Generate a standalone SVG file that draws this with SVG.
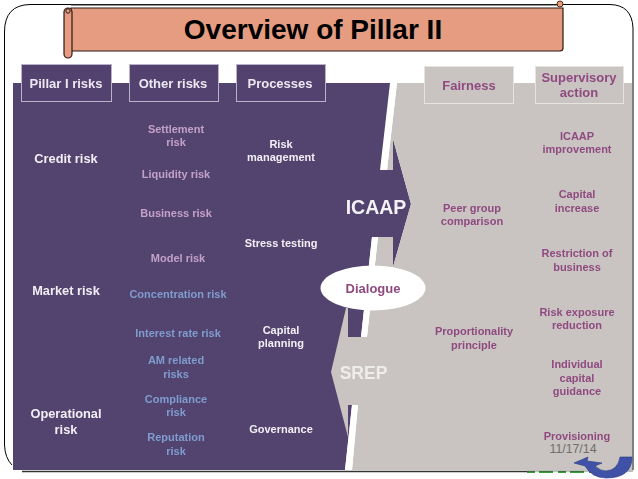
<svg xmlns="http://www.w3.org/2000/svg" width="638" height="479" viewBox="0 0 638 479">
<style>
text{text-anchor:middle;font-family:"Liberation Sans",Arial,sans-serif;font-weight:700}
.h{font-size:13px;fill:#ece8f0}
.hr{font-size:13px;fill:#8f4a80}
.w{font-size:12.800px;fill:#f2eff4}
.p{font-size:11px;fill:#f2eff4}
.pk{font-size:11px;fill:#c3a0c8}
.b{font-size:11px;fill:#7f9ccf}
.r{font-size:11px;fill:#8f4a80}
.box{fill:#53436f;stroke:#b9b3c8;stroke-width:1}
.boxr{fill:#c9c4c1;stroke:#e6e3e1;stroke-width:1}
.scroll{fill:#e69c80;stroke:#2a1a14;stroke-width:1.2}
</style>
<defs><filter id="soft" x="-5%" y="-5%" width="110%" height="110%"><feGaussianBlur stdDeviation="0.3"/></filter></defs>
<rect width="638" height="479" fill="#fff"/>
<path d="M4.500 445V32Q4.500 5 30 4.500H610Q632 5 633 28V470" fill="none" stroke="#000" stroke-width="1"/>
<path d="M4.500 445Q5 458 12 465" fill="none" stroke="#000" stroke-width="1"/>
<path d="M22 471.500H527" stroke="#333" stroke-width="1.300"/>
<path d="M527 472H612" stroke="#3c9a3c" stroke-width="2" stroke-dasharray="8 4 14 5"/>
<path d="M527 471H633" stroke="#222" stroke-width="0.600"/>
<g id="panel">
<polygon points="13,83 392,83 382,170 393,170 393,139 411,204 393,267 393,237 372,237 361,337 348,337 348,405 352,405 345,470 13,470" fill="#53436f"/>
<polygon points="397,83 632,83 632,470 352,470 358,405 348,405 348,437 331,372 346,308 348,308 348,337 367,337 378,237 393,237 393,267 411,204 393,139 393,170 387,170" fill="#c9c4c1"/>
<polygon points="390,83 397,83 387,170 380,170" fill="#fff"/>
<polygon points="372,237 378,237 367,337 361,337" fill="#fff"/>
<polygon points="352,405 358,405 352,470 345,470" fill="#fff"/>
</g>
<g id="title-scroll">
<path class="scroll" d="M71 8H563V48Q563 51 560 51H71Z"/>
<rect class="scroll" x="64" y="8" width="8" height="50" rx="4"/>
<circle cx="68" cy="11" r="2.200" fill="none" stroke="#2a1a14" stroke-width="1"/>
<circle cx="560" cy="4" r="3" fill="#e69c80" stroke="#5a2a1a" stroke-width="1"/>
<path d="M71 5H558" stroke="#333" stroke-width="1"/>
<text x="313" y="39" style="font-size:28px;fill:#000">Overview of Pillar II</text>
</g>
<g filter="url(#soft)">
<g id="head-pillar1"><rect class="box" x="21.500" y="64.500" width="90" height="37"/><text class="h" x="66" y="88">Pillar I risks</text></g>
<g id="head-other"><rect class="box" x="129.500" y="64.500" width="89" height="37"/><text class="h" x="173" y="88">Other risks</text></g>
<g id="head-processes"><rect class="box" x="236.500" y="64.500" width="89" height="37"/><text class="h" x="280" y="88">Processes</text></g>
<g id="head-fairness"><rect class="boxr" x="424.500" y="66.500" width="89" height="37"/><text class="hr" x="469" y="90">Fairness</text></g>
<g id="head-supervisory"><rect class="boxr" x="535.500" y="66.500" width="88" height="37"/><text class="hr" x="579" y="82">Supervisory</text><text class="hr" x="579" y="97">action</text></g>
<g id="pillar1-risks">
<text class="w" x="66" y="163">Credit risk</text>
<text class="w" x="66" y="295">Market risk</text>
<text class="w" x="66" y="418">Operational</text>
<text class="w" x="66" y="434">risk</text>
</g>
<g id="other-risks">
<text class="pk" x="176" y="133">Settlement</text><text class="pk" x="176" y="146">risk</text>
<text class="pk" x="176" y="178">Liquidity risk</text>
<text class="pk" x="176" y="217">Business risk</text>
<text class="pk" x="178" y="262">Model risk</text>
<text class="b" x="178" y="298">Concentration risk</text>
<text class="b" x="178" y="337">Interest rate risk</text>
<text class="b" x="176" y="364">AM related</text><text class="b" x="176" y="378">risks</text>
<text class="b" x="176" y="403">Compliance</text><text class="b" x="176" y="416">risk</text>
<text class="b" x="176" y="441">Reputation</text><text class="b" x="176" y="455">risk</text>
</g>
<g id="processes">
<text class="p" x="281" y="148">Risk</text><text class="p" x="281" y="161">management</text>
<text class="p" x="281" y="247">Stress testing</text>
<text class="p" x="281" y="334">Capital</text><text class="p" x="281" y="347">planning</text>
<text class="p" x="281" y="433">Governance</text>
</g>
<g id="icaap"><text x="376" y="214" style="font-size:19.500px;fill:#f4f2f6">ICAAP</text></g>
<g id="srep"><text x="363.500" y="379" style="font-size:17.500px;fill:#efecec">SREP</text></g>
<g id="dialogue"><ellipse cx="373" cy="288" rx="52.500" ry="22.500" fill="#fff"/><text x="373" y="293" style="font-size:13px;fill:#8f4a80">Dialogue</text></g>
<g id="fairness-items">
<text class="r" x="472" y="212">Peer group</text><text class="r" x="472" y="225">comparison</text>
<text class="r" x="474" y="335">Proportionality</text><text class="r" x="474" y="349">principle</text>
</g>
<g id="supervisory-items">
<text class="r" x="577" y="140">ICAAP</text><text class="r" x="577" y="153">improvement</text>
<text class="r" x="577" y="198">Capital</text><text class="r" x="577" y="212">increase</text>
<text class="r" x="577" y="257">Restriction of</text><text class="r" x="577" y="271">business</text>
<text class="r" x="577" y="316">Risk exposure</text><text class="r" x="577" y="329">reduction</text>
<text class="r" x="577" y="368">Individual</text><text class="r" x="577" y="382">capital</text><text class="r" x="577" y="395">guidance</text>
<text class="r" x="577" y="440">Provisioning</text>
</g>
</g>
<text id="date" x="573" y="453" style="font-weight:400;font-size:12.300px;fill:#6e6e6e">11/17/14</text>
<g id="back-arrow">
<path d="M574 463L588 457L587 461L602 463L595 466Q600 471 606 471Q618 470 620 457H632Q632 478 606 478Q592 478 585 466Z" fill="#3f52a8" stroke="#2a3780" stroke-width="0.600"/>
</g>
</svg>
